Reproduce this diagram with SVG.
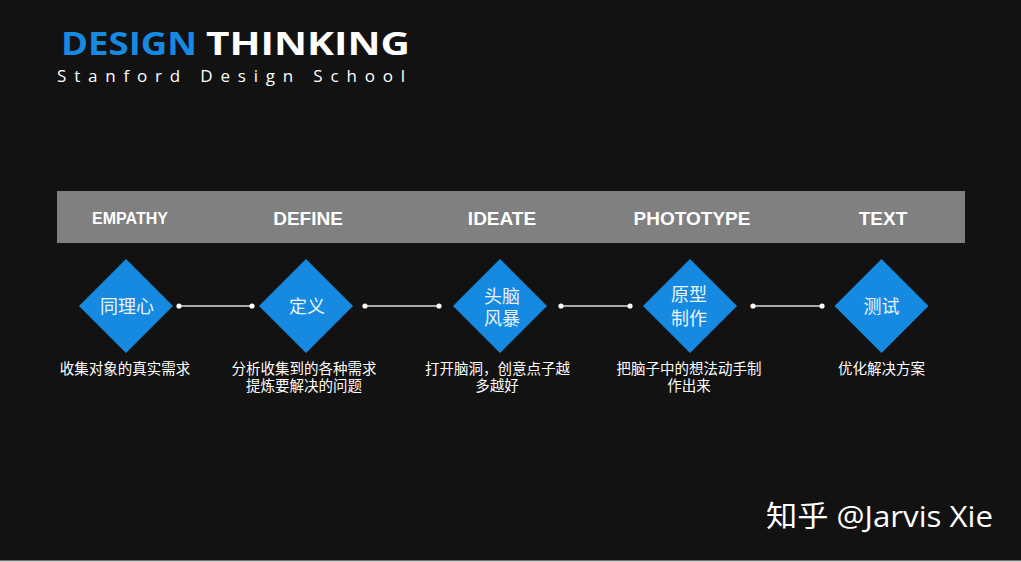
<svg xmlns="http://www.w3.org/2000/svg" width="1021" height="562" viewBox="0 0 1021 562">
<style>
.bar{font-family:"Liberation Sans",Arial,sans-serif;font-weight:bold;fill:#ffffff;text-anchor:middle}
.dia{fill:#1689e0}
.dt{font-family:"Noto Sans CJK SC",sans-serif;font-size:18px;fill:#eaf4ff;text-anchor:middle}
.desc{font-family:"Noto Sans CJK SC",sans-serif;font-size:14.5px;fill:#ffffff;text-anchor:middle}
.con{stroke:#a8a8a8;stroke-width:2}
.dot{fill:#ffffff}
</style>
<rect x="0" y="0" width="1021" height="562" fill="#121212"/>
<rect x="0" y="560.5" width="1021" height="1.5" fill="#cfcfcf"/>
<g id="title">
<text x="61" y="55" font-family="'Open Sans','Liberation Sans',sans-serif" font-weight="bold" font-size="33" fill="#1689e0" textLength="136" lengthAdjust="spacingAndGlyphs">DESIGN</text>
<text x="206" y="55" font-family="'Open Sans','Liberation Sans',sans-serif" font-weight="bold" font-size="33" fill="#ffffff" textLength="204" lengthAdjust="spacingAndGlyphs">THINKING</text>
<text x="57" y="82" font-family="'Open Sans','Liberation Sans',sans-serif" font-size="17" fill="#ffffff" textLength="348" lengthAdjust="spacing">Stanford Design School</text>
</g>
<g id="stage-bar">
<rect x="57" y="191" width="908" height="52" fill="#808080"/>
<text class="bar" x="130" y="224" font-size="16">EMPATHY</text>
<text class="bar" x="308" y="225" font-size="19">DEFINE</text>
<text class="bar" x="502" y="225" font-size="19">IDEATE</text>
<text class="bar" x="692" y="225" font-size="19">PHOTOTYPE</text>
<text class="bar" x="883" y="225" font-size="19">TEXT</text>
</g>
<g id="connectors">
<line class="con" x1="179" y1="306" x2="252" y2="306"/>
<circle class="dot" cx="179" cy="306" r="2.6"/><circle class="dot" cx="252" cy="306" r="2.6"/>
<line class="con" x1="365" y1="306" x2="439" y2="306"/>
<circle class="dot" cx="365" cy="306" r="2.6"/><circle class="dot" cx="439" cy="306" r="2.6"/>
<line class="con" x1="561" y1="306" x2="630" y2="306"/>
<circle class="dot" cx="561" cy="306" r="2.6"/><circle class="dot" cx="630" cy="306" r="2.6"/>
<line class="con" x1="753" y1="306" x2="822" y2="306"/>
<circle class="dot" cx="753" cy="306" r="2.6"/><circle class="dot" cx="822" cy="306" r="2.6"/>
</g>
<g id="node-empathy">
<polygon class="dia" points="126,259 173,306 126,353 79,306"/>
<text class="dt" x="127" y="312.5" font-size="19">同理心</text>
<text class="desc" x="125" y="374">收集对象的真实需求</text>
</g>
<g id="node-define">
<polygon class="dia" points="306,259 353,306 306,353 259,306"/>
<text class="dt" x="307" y="312.5" font-size="19">定义</text>
<text class="desc" x="304" y="374">分析收集到的各种需求<tspan x="304" dy="17">提炼要解决的问题</tspan></text>
</g>
<g id="node-ideate">
<polygon class="dia" points="500,259 547,306 500,353 453,306"/>
<text class="dt" x="502" y="302.5">头脑<tspan x="502" dy="22.5">风暴</tspan></text>
<text class="desc" x="497.5" y="374">打开脑洞，创意点子越<tspan x="497" dy="17">多越好</tspan></text>
</g>
<g id="node-prototype">
<polygon class="dia" points="690,259 737,306 690,353 643,306"/>
<text class="dt" x="689" y="300.5">原型<tspan x="689" dy="24.5">制作</tspan></text>
<text class="desc" x="689" y="374">把脑子中的想法动手制<tspan x="689" dy="17">作出来</tspan></text>
</g>
<g id="node-test">
<polygon class="dia" points="881.5,259 928.5,306 881.5,353 834.5,306"/>
<text class="dt" x="881.5" y="312.5">测试</text>
<text class="desc" x="881.5" y="374">优化解决方案</text>
</g>
<g id="watermark">
<text x="766" y="527" font-family="'Open Sans','Noto Sans CJK SC',sans-serif" font-size="29" fill="#ffffff" textLength="227" lengthAdjust="spacingAndGlyphs">知乎 @Jarvis Xie</text>
</g>
</svg>
